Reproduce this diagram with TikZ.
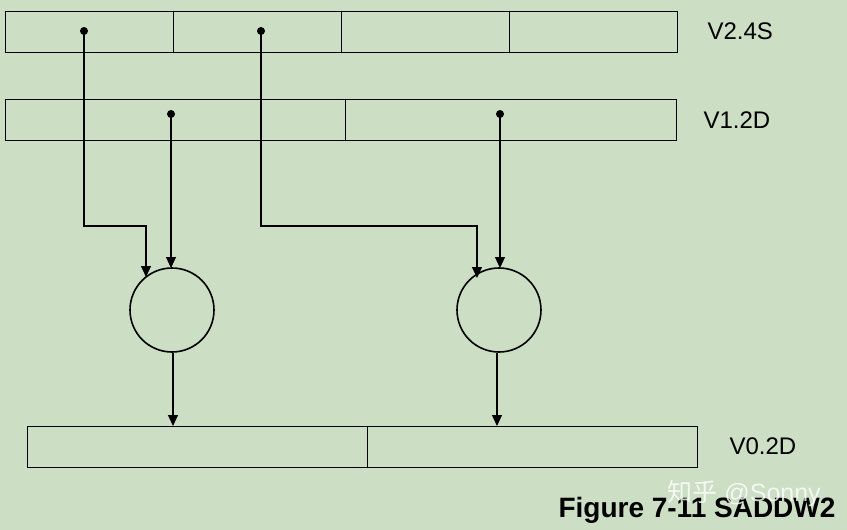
\documentclass[tikz,border=0pt]{standalone}
\usepackage{fontspec}
\setmainfont{Liberation Sans}
\newfontfamily\cjk{Noto Sans CJK SC}
\usetikzlibrary{arrows.meta,calc}
\definecolor{bg}{HTML}{CCDEC4}
\begin{document}
\begin{tikzpicture}[x=1pt,y=-1pt,
  box/.style={draw,line width=1.2pt,inner sep=0pt,anchor=north west},
  conn/.style={line width=1.1pt,-{Triangle[length=11pt,width=10pt]}},
  dotc/.style={circle,fill,inner sep=0pt,minimum size=8pt},
  lab/.style={font=\fontsize{24pt}{26pt}\selectfont,anchor=west}]
\fill[bg] (0,0) rectangle (847,530);
\useasboundingbox (0,0) rectangle (847,530);
% row 1
\node[box,minimum width=168pt,minimum height=41pt] (a1) at (5,11) {};
\node[box,minimum width=168pt,minimum height=41pt] (a2) at (173,11) {};
\node[box,minimum width=168pt,minimum height=41pt] (a3) at (341,11) {};
\node[box,minimum width=168pt,minimum height=41pt] (a4) at (509,11) {};
% row 2
\node[box,minimum width=340pt,minimum height=41pt] (b1) at (5,99) {};
\node[box,minimum width=331pt,minimum height=41pt] (b2) at (345,99) {};
% row 3
\node[box,minimum width=340pt,minimum height=41pt] (c1) at (27,426) {};
\node[box,minimum width=330pt,minimum height=41pt] (c2) at (367,426) {};
% circles
\node[draw,circle,line width=1.6pt,minimum size=84pt,inner sep=0pt] (o1) at (172,310) {};
\node[draw,circle,line width=1.6pt,minimum size=84pt,inner sep=0pt] (o2) at (499,310) {};
% dots
\node[dotc] (d1) at (84,31) {};
\node[dotc] (d2) at (261,31) {};
\node[dotc] (d3) at (171,114) {};
\node[dotc] (d4) at (500,114) {};
% connectors
\draw[conn] (d1.center) -- (84,226) -- (146,226) -- (146,277);
\draw[conn] (d3.center) -- (171,268);
\draw[conn] (d2.center) -- (261,226) -- (477,226) -- (477,278);
\draw[conn] (d4.center) -- (500,268);
\draw[conn] (o1.south -| 173,0) -- (173,426);
\draw[conn] (o2.south -| 497,0) -- (497,426);
% labels
\node[lab] (l1) at (704,31) {V2.4S};
\node[lab] (l2) at (700,120) {V1.2D};
\node[lab] (l3) at (726,446) {V0.2D};
\node[font=\fontsize{28pt}{30pt}\selectfont\bfseries,anchor=south east] (cap) at (839,527) {Figure 7-11 SADDW2};
\node[font=\fontsize{25pt}{27pt}\selectfont,text=white,opacity=0.8,anchor=south west] (wm) at (664,510) {{\cjk 知乎} @Sonny};
\end{tikzpicture}
\end{document}
